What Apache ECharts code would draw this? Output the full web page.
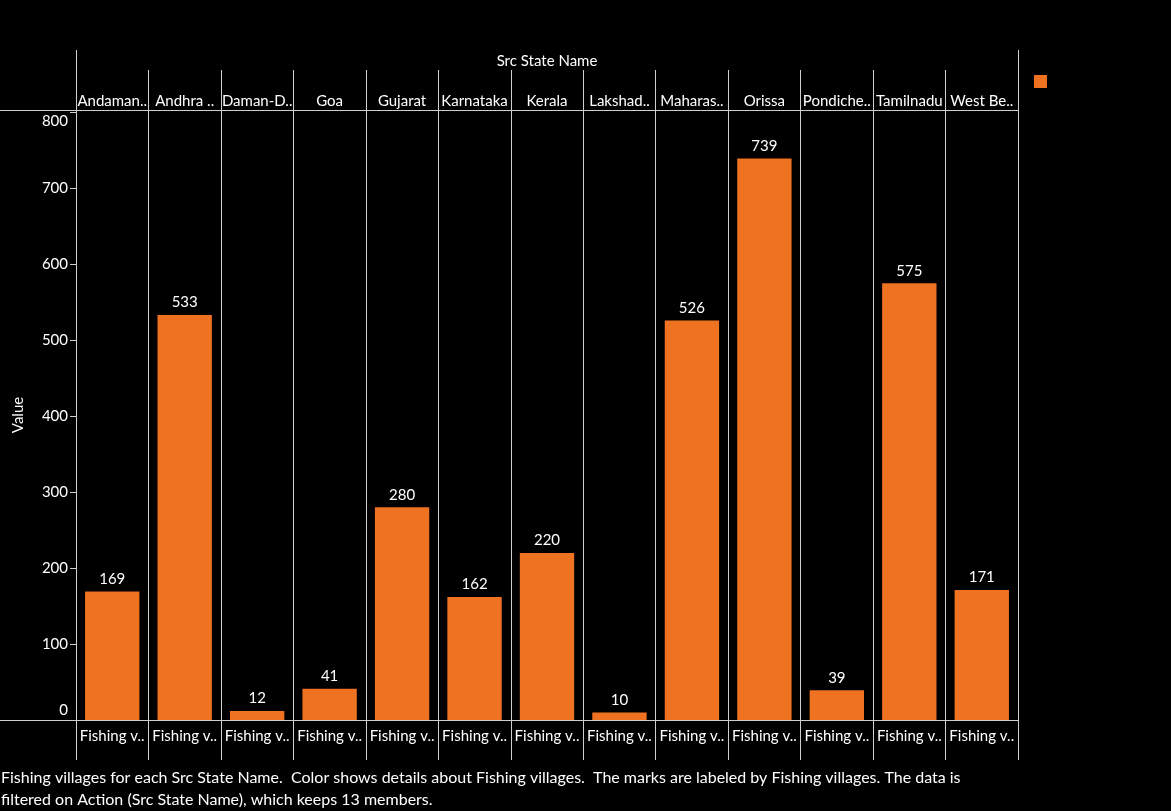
<!DOCTYPE html>
<html>
<head>
<meta charset="utf-8">
<script src="https://cdn.jsdelivr.net/npm/echarts@6/dist/echarts.min.js"></script>
<style>html,body{margin:0;padding:0;background:#000;}#chart{width:1171px;height:811px;}</style>
</head>
<body>
<div id="chart"></div>
<script>
const stateLabels = ['Andaman..','Andhra ..','Daman-D..','Goa','Gujarat','Karnataka','Kerala','Lakshad..','Maharas..','Orissa','Pondiche..','Tamilnadu','West Be..'];
const measureLabels = ['Fishing v..','Fishing v..','Fishing v..','Fishing v..','Fishing v..','Fishing v..','Fishing v..','Fishing v..','Fishing v..','Fishing v..','Fishing v..','Fishing v..','Fishing v..'];
const fishingVillages = [169, 533, 12, 41, 280, 162, 220, 10, 526, 739, 39, 575, 171];
const yTicks = { min: 0, max: 803, interval: 100 };
const captionLines = [
  'Fishing villages for each Src State Name.  Color shows details about Fishing villages.  The marks are labeled by Fishing villages. The data is',
  'filtered on Action (Src State Name), which keeps 13 members.'
];

const FONT = 'Lato';
const LINE = '#cfcfcf';
const TXT = '#ffffff';
const chart = echarts.init(document.getElementById('chart'));
const option = {
  backgroundColor: '#000',
  animation: false,
  textStyle: { fontFamily: FONT },
  grid: { left: 76, right: 153, top: 110, bottom: 91, outerBoundsMode: 'none', containLabel: false },
  title: {
    text: captionLines.join('\n'),
    left: 0, top: 762, padding: [5, 5, 5, 1],
    textStyle: { color: TXT, fontSize: 16, fontWeight: 'normal', lineHeight: 22, fontFamily: FONT }
  },
  legend: {
    left: 1029, top: 70, icon: 'rect', itemWidth: 13, itemHeight: 13,
    formatter: () => '', data: ['Fishing villages'], textStyle: { color: TXT }
  },
  xAxis: [
    {
      type: 'category', data: measureLabels, position: 'bottom',
      axisLine: { show: true, lineStyle: { color: LINE } },
      axisTick: { show: true, length: 40, lineStyle: { color: LINE } },
      splitLine: { show: true, interval: 0, lineStyle: { color: LINE } },
      axisLabel: { color: TXT, fontSize: 15, margin: 9, interval: 0, fontFamily: FONT }
    },
    {
      type: 'category', data: stateLabels, position: 'top',
      name: 'Src State Name', nameLocation: 'middle', nameGap: 41,
      nameTextStyle: { color: TXT, fontSize: 15, fontFamily: FONT },
      axisLine: { show: true, lineStyle: { color: LINE } },
      axisTick: { show: true, length: 40, lineStyle: { color: LINE } },
      axisLabel: { color: TXT, fontSize: 15, margin: 1, interval: 0, fontFamily: FONT }
    }
  ],
  yAxis: {
    type: 'value', min: yTicks.min, max: yTicks.max, interval: yTicks.interval,
    name: 'Value', nameLocation: 'middle', nameGap: 50, nameRotate: 90,
    nameTextStyle: { color: TXT, fontSize: 15, fontFamily: FONT },
    axisLine: { show: false },
    axisTick: { show: true, length: 6, lineStyle: { color: LINE } },
    splitLine: { show: false },
    axisLabel: {
      color: TXT, fontSize: 15, margin: 8, fontFamily: FONT,
      formatter: v => (v === 800 ? '{top|800}' : v === 0 ? '{bot|0}' : String(v)),
      rich: {
        top: { color: TXT, fontSize: 15, fontFamily: FONT, padding: [18, 0, 0, 0] },
        bot: { color: TXT, fontSize: 15, fontFamily: FONT, padding: [0, 0, 20, 0] }
      }
    }
  },
  series: [{
    name: 'Fishing villages', type: 'bar', xAxisIndex: 0, data: fishingVillages,
    barWidth: '75%',
    itemStyle: { color: '#EF7221' },
    label: { show: true, position: 'top', distance: 5, color: TXT, fontSize: 15, fontFamily: FONT }
  }]
};
chart.setOption(option);

// frame lines extending beyond the grid, positioned from the library's scales
const yZero = chart.convertToPixel({ yAxisIndex: 0 }, 0);
const yTop = chart.convertToPixel({ yAxisIndex: 0 }, yTicks.max);
const c0 = chart.convertToPixel({ xAxisIndex: 0 }, 0);
const c1 = chart.convertToPixel({ xAxisIndex: 0 }, 1);
const cN = chart.convertToPixel({ xAxisIndex: 0 }, fishingVillages.length - 1);
const half = (c1 - c0) / 2;
const xL = Math.round(c0 - half) + 0.5, xR = Math.round(cN + half) + 0.5;
const ls = { stroke: LINE, lineWidth: 1 };
chart.setOption({
  graphic: [
    { type: 'line', shape: { x1: 0, y1: Math.round(yTop) + 0.5, x2: xR, y2: Math.round(yTop) + 0.5 }, style: ls, silent: true },
    { type: 'line', shape: { x1: 0, y1: Math.round(yZero) + 0.5, x2: xR, y2: Math.round(yZero) + 0.5 }, style: ls, silent: true },
    { type: 'line', shape: { x1: xL, y1: 50, x2: xL, y2: 760 }, style: ls, silent: true },
    { type: 'line', shape: { x1: xR, y1: 50, x2: xR, y2: 760 }, style: ls, silent: true }
  ]
});
</script>
</body>
</html>
